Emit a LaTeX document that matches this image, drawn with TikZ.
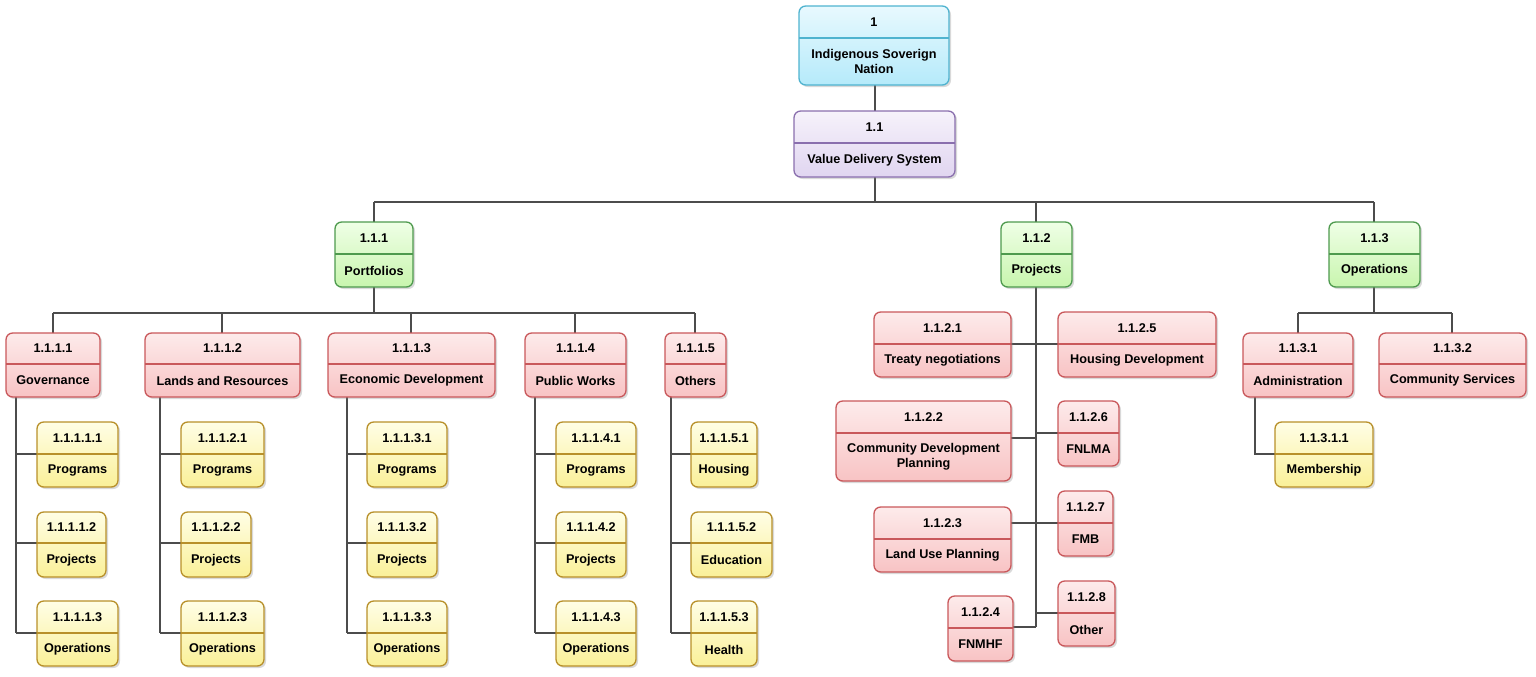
\documentclass[tikz,border=0pt]{standalone}
\usepackage{fontspec}
\setmainfont{Liberation Sans}
\usetikzlibrary{fit,shadows}
\definecolor{cyb}{HTML}{4FB3CF}\definecolor{cyt}{HTML}{E8F9FE}\definecolor{cyl}{HTML}{B5EAFA}
\definecolor{pub}{HTML}{8A6FAE}\definecolor{put}{HTML}{F6F2FB}\definecolor{pul}{HTML}{E0D5F0}
\definecolor{grb}{HTML}{4E9A4E}\definecolor{grt}{HTML}{EFFFE6}\definecolor{grl}{HTML}{C8F5AE}
\definecolor{reb}{HTML}{C9585B}\definecolor{ret}{HTML}{FDEBEB}\definecolor{rel}{HTML}{F8C3C4}
\definecolor{yeb}{HTML}{B8902A}\definecolor{yet}{HTML}{FFFEE6}\definecolor{yel}{HTML}{FAF098}
\tikzset{
 bx/.style={rounded corners=5pt,line width=1pt,drop shadow={shadow xshift=1.5pt,shadow yshift=-1.5pt,opacity=.3}},
 cy/.style={bx,draw=cyb,top color=cyt,bottom color=cyl},
 pu/.style={bx,draw=pub,top color=put,bottom color=pul},
 gr/.style={bx,draw=grb,top color=grt,bottom color=grl},
 re/.style={bx,draw=reb,top color=ret,bottom color=rel},
 ye/.style={bx,draw=yeb,top color=yet,bottom color=yel},
 cy-d/.style={draw=cyb},pu-d/.style={draw=pub},gr-d/.style={draw=grb},re-d/.style={draw=reb},ye-d/.style={draw=yeb},
 txt/.style={font=\fontsize{9.5}{11}\selectfont\bfseries,align=center,inner sep=0pt},
 ln/.style={draw=black!70,line width=0.9pt}
}
\newcommand\wb[9]{%
 \path[#7] (#2,#3) rectangle (#4,#5);
 \draw[#7-d,line width=0.8pt] (#2,#6) -- (#4,#6);
 \node[txt] at ({(#2+#4)/2},{(#3+#6)/2}) {#8};
 \node[txt] at ({(#2+#4)/2},{(#6+#5)/2}) {#9};
 \node[fit={(#2,#3)(#4,#5)},inner sep=0pt] (#1) {};
}
\begin{document}
\begin{tikzpicture}[x=0.75pt,y=-0.75pt]
\useasboundingbox (0,0) rectangle (1536,676);
% connectors first
\coordinate (b1) at (374,202); \coordinate (b3) at (1374,202); \coordinate (b2) at (1036,202);
\coordinate (r1) at (53,313); \coordinate (r5) at (695,313);
\coordinate (o1) at (1298,313); \coordinate (o2) at (1452,313);
\draw[ln] (875,85) -- (875,111);
\draw[ln] (875,177) -- (875,202);
\draw[ln] (b1) -- (b3);
\draw[ln] (374,202) -- (374,222);
\draw[ln] (b2) -- (1036,222);
\draw[ln] (b3) -- (1374,222);
\draw[ln] (374,287) -- (374,313);
\draw[ln] (r1) -- (r5);
\foreach \x in {53,222,411,575,695}{\draw[ln] (\x,313) -- (\x,333);}
\draw[ln] (1374,287) -- (1374,313);
\draw[ln] (o1) -- (o2) (o1) -- (1298,333) (o2) -- (1452,333);
\foreach \x/\a/\b/\c in {16/37/37/37,160/181/181/181,347/367/367/367,535/556/556/556,671/691/691/691}{
 \draw[ln] (\x,397) -- (\x,633);
 \draw[ln] (\x,454) -- (\a,454) (\x,543) -- (\b,543) (\x,633) -- (\c,633);}
\draw[ln] (1036,287) -- (1036,627);
\draw[ln] (1011,344) -- (1058,344) (1011,438) -- (1036,438) (1036,433) -- (1058,433)
 (1011,523) -- (1058,523) (1013,627) -- (1036,627) (1036,613) -- (1058,613);
\draw[ln] (1255,397) -- (1255,454) -- (1275,454);
% boxes
\wb{n1}{799}{6}{949}{85}{38}{cy}{1}{Indigenous Soverign\\Nation}
\wb{n11}{794}{111}{955}{177}{143}{pu}{1.1}{Value Delivery System}
\wb{n111}{335}{222}{413}{287}{254}{gr}{1.1.1}{Portfolios}
\wb{n112}{1001}{222}{1072}{287}{254}{gr}{1.1.2}{Projects}
\wb{n113}{1329}{222}{1420}{287}{254}{gr}{1.1.3}{Operations}
\wb{a1}{6}{333}{100}{397}{364}{re}{1.1.1.1}{Governance}
\wb{a2}{145}{333}{300}{397}{364}{re}{1.1.1.2}{Lands and Resources}
\wb{a3}{328}{333}{495}{397}{364}{re}{1.1.1.3}{Economic Development}
\wb{a4}{525}{333}{626}{397}{364}{re}{1.1.1.4}{Public Works}
\wb{a5}{665}{333}{726}{397}{364}{re}{1.1.1.5}{Others}
\wb{a11}{37}{422}{118}{487}{454}{ye}{1.1.1.1.1}{Programs}
\wb{a12}{37}{512}{106}{577}{543}{ye}{1.1.1.1.2}{Projects}
\wb{a13}{37}{601}{118}{666}{633}{ye}{1.1.1.1.3}{Operations}
\wb{a21}{181}{422}{264}{487}{454}{ye}{1.1.1.2.1}{Programs}
\wb{a22}{181}{512}{251}{577}{543}{ye}{1.1.1.2.2}{Projects}
\wb{a23}{181}{601}{264}{666}{633}{ye}{1.1.1.2.3}{Operations}
\wb{a31}{367}{422}{447}{487}{454}{ye}{1.1.1.3.1}{Programs}
\wb{a32}{367}{512}{437}{577}{543}{ye}{1.1.1.3.2}{Projects}
\wb{a33}{367}{601}{447}{666}{633}{ye}{1.1.1.3.3}{Operations}
\wb{a41}{556}{422}{636}{487}{454}{ye}{1.1.1.4.1}{Programs}
\wb{a42}{556}{512}{626}{577}{543}{ye}{1.1.1.4.2}{Projects}
\wb{a43}{556}{601}{636}{666}{633}{ye}{1.1.1.4.3}{Operations}
\wb{a51}{691}{422}{757}{487}{454}{ye}{1.1.1.5.1}{Housing}
\wb{a52}{691}{512}{772}{577}{543}{ye}{1.1.1.5.2}{Education}
\wb{a53}{691}{601}{757}{666}{633}{ye}{1.1.1.5.3}{Health}
\wb{p1}{874}{312}{1011}{377}{344}{re}{1.1.2.1}{Treaty negotiations}
\wb{p5}{1058}{312}{1216}{377}{344}{re}{1.1.2.5}{Housing Development}
\wb{p2}{836}{401}{1011}{481}{433}{re}{1.1.2.2}{Community Development\\Planning}
\wb{p6}{1058}{401}{1119}{466}{433}{re}{1.1.2.6}{FNLMA}
\wb{p3}{874}{507}{1011}{572}{539}{re}{1.1.2.3}{Land Use Planning}
\wb{p7}{1058}{491}{1113}{556}{523}{re}{1.1.2.7}{FMB}
\wb{p4}{948}{596}{1013}{661}{628}{re}{1.1.2.4}{FNMHF}
\wb{p8}{1058}{581}{1115}{646}{613}{re}{1.1.2.8}{Other}
\wb{o31}{1243}{333}{1353}{397}{364}{re}{1.1.3.1}{Administration}
\wb{o32}{1379}{333}{1526}{397}{364}{re}{1.1.3.2}{Community Services}
\wb{o311}{1275}{422}{1373}{487}{454}{ye}{1.1.3.1.1}{Membership}
\end{tikzpicture}
\end{document}
